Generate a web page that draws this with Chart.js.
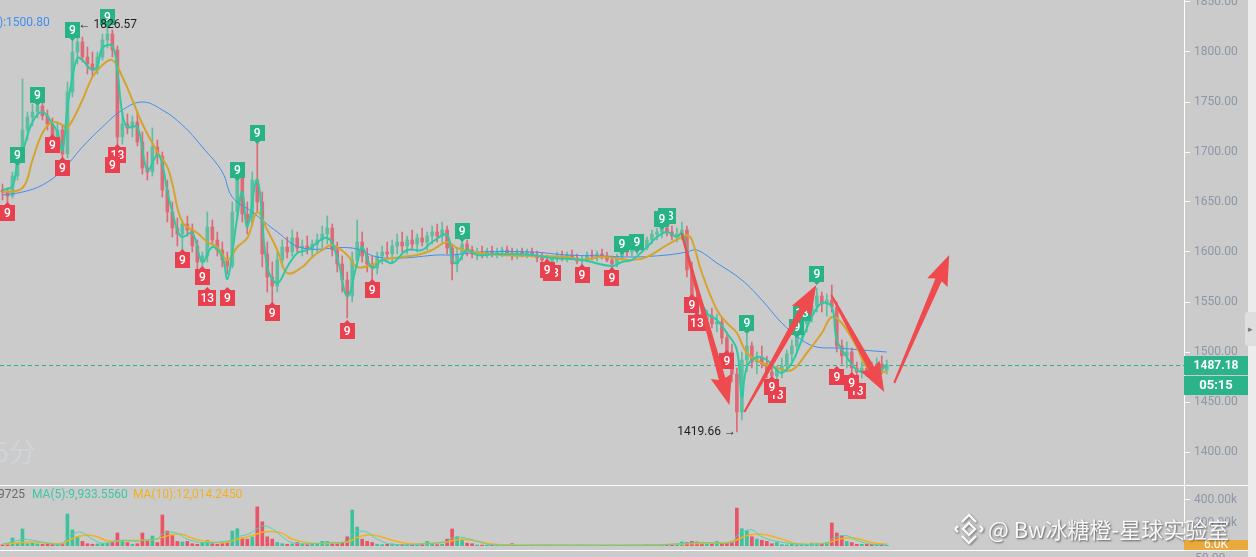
<!DOCTYPE html>
<html>
<head>
<meta charset="utf-8">
<script src="https://cdn.jsdelivr.net/npm/chart.js"></script>
<style>
  html, body { margin: 0; padding: 0; background: #cbcbcb; overflow: hidden; }
  #wrap { position: relative; width: 1256px; height: 557px; background: #cbcbcb; overflow: hidden;
          font-family: Roboto, "Noto Sans", sans-serif; }
  canvas { position: absolute; left: 0; }
  #main { top: 0; }
  #vol { top: 486px; }
  .hline { position: absolute; left: 0; width: 1248px; height: 1px; background: #fff; }
  .txt { position: absolute; white-space: nowrap; font-size: 12px; line-height: 14px; }
  #strip { position: absolute; left: 1248px; top: 0; width: 8px; height: 557px; background: #ececec; }
  #tab { position: absolute; left: 1245px; top: 312px; width: 11px; height: 34px; background: #dedede;
         border-radius: 3px 0 0 3px; color: #777; font-size: 9px; line-height: 34px; text-align: center; }
  #mark { position: absolute; left: 952px; top: 512px; }
  #wm { position: absolute; left: 988px; top: 513px; font-size: 22px; line-height: 30px; color: rgba(255,255,255,0.92);
        font-family: "Noto Sans CJK SC", "Noto Sans", sans-serif; text-shadow: 1px 1px 2px rgba(0,0,0,0.55);
        white-space: nowrap; }
</style>
</head>
<body>
<div id="wrap">
  <canvas id="main" width="1256" height="485"></canvas>
  <canvas id="vol" width="1256" height="64"></canvas>
  <div class="hline" style="top:485px"></div>
  <div class="hline" style="top:550px"></div>
  <div id="strip"></div>
  <div id="tab">&#9656;</div>
  <div class="txt" style="left:-1px;top:15px;color:#3d8ff0">):1500.80</div>
  <div class="txt" style="left:-6px;top:436px;font-size:27px;line-height:30px;color:rgba(222,228,236,0.35);font-family:'Noto Sans CJK SC',sans-serif">5分</div>
  <div class="txt" style="left:-2px;top:487px;color:#6b6b6b">9725</div>
  <div class="txt" style="left:32px;top:487px;color:#38c9a6">MA(5):9,933.5560</div>
  <div class="txt" style="left:133px;top:487px;color:#f2b01e">MA(10):12,014.2450</div>
  <div class="txt" style="left:1195px;top:551px;color:#8d97a6">50.00</div>
  <svg id="mark" width="34" height="34" viewBox="0 0 34 34">
    <g fill="none" stroke="rgba(255,255,255,0.92)" stroke-width="2.4" style="filter:drop-shadow(1px 1px 1px rgba(0,0,0,0.5))">
      <path d="M17 11 L23 17 L17 23 L11 17 Z"/>
      <path d="M10 10 L17 3 L24 10"/>
      <path d="M10 24 L17 31 L24 24"/>
      <path d="M3 17 L6 14 M3 17 L6 20"/>
      <path d="M31 17 L28 14 M31 17 L28 20"/>
    </g>
  </svg>
  <div id="wm">@ Bw冰糖橙-星球实验室</div>
</div>
<script>
// ---- candle data ----
const opens = [1662,1660,1656,1676,1695,1722,1735,1740,1746,1736,
  1728,1712,1722,1698,1760,1800,1810,1795,1788,1782,
  1795,1812,1818,1802,1715,1728,1724,1730,1710,1684,
  1680,1705,1696,1662,1640,1624,1618,1628,1622,1606,
  1590,1596,1625,1612,1602,1592,1586,1640,1675,1638,
  1630,1672,1650,1598,1575,1566,1592,1605,1600,1614,
  1604,1606,1602,1608,1612,1618,1624,1602,1588,1572,
  1556,1592,1610,1596,1588,1584,1596,1600,1598,1606,
  1610,1606,1612,1608,1614,1610,1616,1620,1616,1622,
  1604,1588,1598,1608,1602,1598,1600,1598,1601,1599,
  1600,1602,1599,1597,1600,1598,1600,1597,1594,1592,
  1590,1594,1596,1595,1597,1594,1591,1593,1597,1596,
  1598,1596,1592,1588,1595,1602,1600,1603,1605,1604,
  1612,1618,1620,1624,1620,1616,1618,1622,1582,1552,
  1538,1532,1536,1528,1530,1514,1500,1478,1440,1492,
  1506,1490,1494,1488,1480,1476,1482,1486,1498,1506,
  1518,1528,1540,1546,1556,1548,1552,1545,1506,1496,
  1500,1484,1480,1484,1482,1478,1488,1482];
const highs = [1668,1664,1680,1700,1773,1740,1748,1755,1750,1742,
  1734,1730,1726,1770,1820,1827,1815,1805,1800,1800,
  1818,1826,1822,1806,1740,1738,1736,1740,1720,1700,
  1724,1712,1700,1672,1650,1634,1632,1636,1628,1612,
  1600,1640,1632,1620,1610,1600,1650,1688,1680,1650,
  1680,1712,1660,1610,1590,1600,1612,1615,1622,1620,
  1612,1616,1612,1618,1626,1636,1628,1610,1596,1580,
  1600,1632,1620,1604,1596,1600,1606,1610,1612,1618,
  1620,1616,1622,1618,1624,1620,1626,1628,1630,1626,
  1608,1604,1614,1612,1606,1604,1606,1604,1606,1604,
  1605,1606,1604,1603,1604,1603,1604,1601,1599,1597,
  1596,1600,1601,1600,1602,1598,1596,1600,1602,1601,
  1603,1600,1596,1598,1606,1606,1606,1608,1610,1615,
  1622,1624,1628,1630,1626,1624,1630,1626,1590,1560,
  1546,1542,1544,1538,1534,1520,1508,1484,1500,1518,
  1510,1500,1506,1496,1488,1486,1494,1502,1512,1524,
  1534,1546,1552,1564,1560,1558,1567,1550,1512,1510,
  1504,1490,1490,1492,1490,1494,1496,1492];
const lows = [1652,1648,1654,1672,1690,1712,1726,1734,1732,1722,
  1707,1700,1690,1694,1755,1788,1790,1778,1776,1778,
  1792,1804,1795,1690,1708,1718,1715,1706,1678,1672,
  1676,1688,1655,1630,1615,1606,1600,1616,1600,1582,
  1578,1590,1608,1596,1585,1578,1584,1634,1630,1618,
  1626,1640,1585,1560,1545,1560,1585,1594,1596,1600,
  1596,1598,1594,1600,1604,1608,1596,1580,1560,1534,
  1550,1586,1590,1580,1572,1578,1588,1592,1590,1598,
  1600,1598,1602,1600,1606,1602,1608,1610,1610,1598,
  1572,1580,1592,1596,1594,1592,1594,1594,1595,1594,
  1595,1596,1592,1593,1595,1594,1595,1590,1588,1586,
  1584,1590,1591,1590,1592,1588,1586,1590,1592,1591,
  1593,1590,1580,1585,1592,1596,1596,1598,1600,1602,
  1608,1612,1614,1616,1612,1610,1612,1575,1545,1530,
  1524,1522,1524,1520,1508,1492,1470,1420,1432,1480,
  1484,1478,1484,1474,1468,1466,1474,1480,1490,1500,
  1510,1520,1530,1540,1540,1536,1540,1500,1488,1484,
  1478,1472,1474,1476,1474,1470,1478,1478];
const closes = [1660,1656,1676,1695,1722,1735,1740,1746,1736,1728,
  1712,1722,1698,1760,1800,1810,1795,1788,1782,1795,
  1812,1818,1802,1715,1728,1724,1730,1710,1684,1680,
  1705,1696,1662,1640,1624,1618,1628,1622,1606,1590,
  1596,1625,1612,1602,1592,1586,1640,1675,1638,1630,
  1672,1650,1598,1575,1566,1592,1605,1600,1614,1604,
  1606,1602,1608,1612,1618,1624,1602,1588,1572,1556,
  1592,1610,1596,1588,1584,1596,1600,1598,1606,1610,
  1606,1612,1608,1614,1610,1616,1620,1616,1622,1604,
  1588,1598,1608,1602,1598,1600,1598,1601,1599,1600,
  1602,1599,1597,1600,1598,1600,1597,1594,1592,1590,
  1594,1596,1595,1597,1594,1591,1593,1597,1596,1598,
  1596,1592,1588,1595,1602,1600,1603,1605,1604,1612,
  1618,1620,1624,1620,1616,1618,1622,1582,1552,1538,
  1532,1536,1528,1530,1514,1500,1478,1440,1492,1506,
  1490,1494,1488,1480,1476,1482,1486,1498,1506,1518,
  1528,1540,1546,1556,1548,1552,1545,1506,1496,1500,
  1484,1480,1484,1482,1478,1488,1482,1487.18];
// volume in thousands
const volumes = [10,12,70,25,148,20,25,18,15,18,
  15,12,25,278,140,80,40,20,15,18,
  20,25,30,113,50,30,15,20,113,45,
  87,30,270,130,90,40,35,40,20,15,
  30,50,20,15,20,30,130,150,70,60,
  80,340,210,80,60,30,20,15,18,30,
  15,12,15,20,40,40,25,20,30,80,
  313,165,60,40,30,15,12,15,18,14,
  12,16,14,12,15,40,15,12,15,60,
  148,80,60,25,20,9,8,9,10,8,
  9,10,20,7,6,7,8,6,7,8,
  7,6,8,7,6,7,8,6,7,8,
  6,7,8,7,6,7,8,7,6,15,
  8,7,8,7,8,9,35,30,40,35,
  20,20,25,40,20,30,40,330,150,130,
  80,60,50,40,20,30,12,10,15,12,
  15,12,25,25,20,30,200,113,90,40,
  30,15,15,15,15,12,15,6];

// ---- moving average lines at sample candles ----
const maFastIdx = [0,2,3,4,6,8,10,11,12,13,14,15,16,17,18,19,20,22,23,24,25,27,29,31,32,33,34,35,36,38,40,42,44,45,46,47,48,49,51,53,55,57,59,61,65,67,69,71,72,74,76,78,81,84,86,89,90,91,93,95,99,106,110,116,122,124,126,129,131,133,135,136,137,139,141,143,145,147,148,149,151,153,155,156,158,160,162,164,166,167,169,171,173,175,177];
const maFastVal = [1662,1666,1690,1700,1730,1740,1728,1720,1702,1745,1775,1794,1792,1786,1782,1786,1804,1806,1780,1738,1725,1725,1682,1697,1688,1660,1640,1622,1615,1619,1590,1605,1595,1573,1600,1635,1660,1625,1672,1585,1569,1585,1599,1602,1614,1594,1556,1589,1605,1584,1592,1589,1602,1602,1610,1617,1592,1589,1602,1597,1598,1597,1594,1592,1586,1590,1592,1605,1615,1620,1615,1619,1602,1562,1539,1532,1519,1502,1455,1485,1495,1492,1482,1479,1489,1512,1535,1549,1545,1512,1495,1482,1479,1479,1487];
const maMidIdx = [0,4,6,8,10,12,13,16,18,20,22,24,26,28,31,33,34,36,39,41,43,45,47,49,51,53,55,57,60,62,64,66,69,71,74,76,80,83,86,89,91,94,100,106,113,116,120,126,129,133,136,137,138,140,143,145,147,149,152,155,158,161,164,166,168,171,173,176,177];
const maMidVal = [1660,1664,1692,1719,1730,1727,1724,1752,1775,1787,1792,1775,1752,1728,1700,1685,1668,1630,1619,1610,1605,1592,1605,1614,1640,1622,1602,1579,1585,1595,1602,1607,1597,1585,1587,1592,1595,1597,1602,1610,1604,1600,1597,1596,1595,1592,1595,1592,1595,1607,1615,1617,1612,1579,1542,1529,1519,1499,1489,1484,1482,1499,1519,1535,1529,1505,1485,1480,1481];
const maSlowIdx = [0,4,8,12,16,20,24,28,32,36,40,44,46,50,55,60,70,75,80,87,90,96,106,113,120,126,133,137,139,143,148,152,156,160,163,167,172,177];
const maSlowVal = [1657,1660,1667,1682,1705,1725,1742,1750,1742,1727,1705,1680,1655,1640,1620,1604,1604,1595,1594,1597,1597,1600,1600,1597,1596,1595,1597,1600,1602,1589,1572,1552,1529,1512,1505,1504,1502,1500];

// volume MA(5) / MA(10), thousands
const vmaFastIdx = [0,4,6,10,12,13,14,15,16,18,20,23,25,27,29,31,32,33,35,37,40,46,47,49,51,52,54,56,58,62,66,69,70,71,73,75,78,85,89,90,92,95,98,110,130,136,140,146,147,148,150,152,155,160,165,166,167,169,171,174,177];
const vmaFastVal = [15,55,50,18,20,75,100,120,115,60,25,45,50,40,55,60,105,120,110,60,30,50,80,100,150,175,150,80,30,20,30,40,100,125,120,60,15,20,40,70,75,40,10,8,8,20,30,30,90,120,140,80,40,15,25,60,80,90,50,15,12];
const vmaSlowIdx = [0,6,12,13,15,17,19,21,24,28,30,32,34,36,39,44,47,50,52,54,56,58,62,69,71,73,75,78,82,89,91,94,97,100,130,137,145,147,149,151,153,156,159,165,167,169,171,174,177];
const vmaSlowVal = [15,35,20,45,80,95,80,45,45,50,55,75,100,100,55,30,60,90,120,125,110,60,25,35,75,95,90,50,18,35,55,50,25,10,8,20,30,55,90,105,95,60,20,25,55,70,65,30,15];

// ---- TD sequential labels and hand-drawn arrows ----
const tdIdx   = [3,7,14,21,47,51,92,124,127,133,132,149,160,159,163, 1,10,12,23,22,36,41,40,45,54,69,74,110,109,116,122,139,138,145,155,154,171,167,170];
const tdPrice = [1697,1757,1822,1835,1682,1719,1621,1608,1610,1636,1633,1529,1539,1525,1578, 1639,1707,1684,1697,1687,1592,1554,1575,1554,1539,1521,1562,1579,1582,1577,1574,1529,1547,1491,1457,1465,1461,1475,1469];
const tdText  = ['9','9','9','9','9','9','9','9','9','13','9','9','13','9','9', '9','9','9','13','9','9','13','9','9','9','9','9','13','9','9','9','13','9','9','13','9','13','9','9'];
const tdUp    = [1,1,1,1,1,1,1,1,1,1,1,1,1,1,1, 0,0,0,0,0,0,0,0,0,0,0,0,0,0,0,0,0,0,0,0,0,0,0,0];

const arrowFromIdx = [135.9, 148.5, 165.9, 178.5];
const arrowFromPrice = [1619, 1440, 1557, 1469];
const arrowToIdx = [145.5, 162.9, 176.5, 189.5];
const arrowToPrice = [1447, 1567, 1460, 1597];

const highMark = {idx: 15, price: 1827, text: '\u2190 1826.57'};
const lowMark = {idx: 147, price: 1420, text: '1419.66 \u2192'};
const lastPrice = 1487.18;

const slots = 237;
const labels = [];
for (let i = 0; i < slots; i++) labels.push(i);

const UP = '#5fbea0', DOWN = '#de6a75';
const candleColors = closes.map((c, i) => c >= opens[i] ? UP : DOWN);
const volColors = closes.map((c, i) => c >= opens[i] ? '#3dc29b' : '#ea5464');
const FONT = 'Roboto, "Noto Sans", sans-serif';

function pts(idx, val) { return idx.map((x, k) => ({x: x, y: val[k]})); }

function drawArrow(ctx, x1, y1, x2, y2) {
  const ang = Math.atan2(y2 - y1, x2 - x1);
  const len = Math.hypot(x2 - x1, y2 - y1);
  const hl = 30, hw = 11;
  ctx.save();
  ctx.translate(x1, y1);
  ctx.rotate(ang);
  ctx.beginPath();
  ctx.moveTo(0, -1);
  ctx.lineTo(len - hl + 3, -3.4);
  ctx.lineTo(len - hl, -hw);
  ctx.lineTo(len, 0);
  ctx.lineTo(len - hl, hw);
  ctx.lineTo(len - hl + 3, 3.4);
  ctx.lineTo(0, 1);
  ctx.closePath();
  ctx.fillStyle = '#ef4b4e';
  ctx.fill();
  ctx.restore();
}

const overlay = {
  id: 'overlay',
  beforeDatasetsDraw(chart) {
    const ctx = chart.ctx, y = chart.scales.y, a = chart.chartArea;
    const py = Math.round(y.getPixelForValue(lastPrice)) + 0.5;
    ctx.save();
    ctx.strokeStyle = '#2bb38a';
    ctx.setLineDash([4, 3]);
    ctx.lineWidth = 1;
    ctx.beginPath();
    ctx.moveTo(a.left, py);
    ctx.lineTo(a.right, py);
    ctx.stroke();
    ctx.restore();
  },
  afterDatasetsDraw(chart) {
    const ctx = chart.ctx, x = chart.scales.x, y = chart.scales.y;
    ctx.save();
    // 13 labels first, 9 on top
    const order = tdIdx.map((v, k) => k).sort((p, q) => (tdText[q] === '13') - (tdText[p] === '13'));
    ctx.font = '500 12px ' + FONT;
    ctx.textAlign = 'center';
    ctx.textBaseline = 'middle';
    order.forEach(k => {
      const cx = x.getPixelForValue(tdIdx[k]);
      const cy = y.getPixelForValue(tdPrice[k]);
      const w = tdText[k] === '13' ? 18 : 15, h = 16;
      ctx.fillStyle = tdUp[k] ? '#27b386' : '#e8404f';
      ctx.fillRect(Math.round(cx - w / 2), Math.round(cy - h / 2), w, h);
      ctx.beginPath();
      if (tdUp[k]) {
        ctx.moveTo(cx - 3, cy + h / 2); ctx.lineTo(cx + 3, cy + h / 2); ctx.lineTo(cx, cy + h / 2 + 3);
      } else {
        ctx.moveTo(cx - 3, cy - h / 2); ctx.lineTo(cx + 3, cy - h / 2); ctx.lineTo(cx, cy - h / 2 - 3);
      }
      ctx.fill();
      ctx.fillStyle = '#ffffff';
      ctx.fillText(tdText[k], cx, cy + 1);
    });
    // extreme price notes
    ctx.font = '12px ' + FONT;
    ctx.fillStyle = '#1e1e1e';
    ctx.textAlign = 'left';
    ctx.fillText(highMark.text, x.getPixelForValue(highMark.idx) + 1, y.getPixelForValue(highMark.price));
    ctx.textAlign = 'right';
    ctx.fillText(lowMark.text, x.getPixelForValue(lowMark.idx) - 1, y.getPixelForValue(lowMark.price));
    // arrows
    arrowFromIdx.forEach((v, k) => {
      drawArrow(ctx, x.getPixelForValue(v), y.getPixelForValue(arrowFromPrice[k]),
                x.getPixelForValue(arrowToIdx[k]), y.getPixelForValue(arrowToPrice[k]));
    });
    ctx.restore();
  },
  afterDraw(chart) {
    const ctx = chart.ctx, y = chart.scales.y, a = chart.chartArea;
    const py = Math.round(y.getPixelForValue(lastPrice));
    ctx.save();
    ctx.fillStyle = '#2bb38a';
    ctx.fillRect(a.right, py - 9, 64, 19);
    ctx.fillRect(a.right, py + 11, 64, 19);
    ctx.fillStyle = '#ffffff';
    ctx.font = 'bold 12px ' + FONT;
    ctx.textAlign = 'center';
    ctx.textBaseline = 'middle';
    ctx.fillText(lastPrice.toFixed(2), a.right + 32, py + 1);
    ctx.font = 'bold 13px ' + FONT;
    ctx.fillText('05:15', a.right + 32, py + 21);
    ctx.restore();
  }
};

function axisFit(s) { s.width = 72; s.paddingTop = 0; s.paddingBottom = 0; }

new Chart(document.getElementById('main'), {
  type: 'bar',
  data: {
    labels: labels,
    datasets: [
      {type: 'line', data: pts(maFastIdx, maFastVal), borderColor: '#2dc9a3', borderWidth: 2, pointRadius: 0, tension: 0.4, order: 0},
      {type: 'line', data: pts(maMidIdx, maMidVal), borderColor: '#d6a42c', borderWidth: 2, pointRadius: 0, tension: 0.4, order: 0},
      {type: 'line', data: pts(maSlowIdx, maSlowVal), borderColor: '#3e8fee', borderWidth: 1, pointRadius: 0, tension: 0.4, order: 0},
      {data: opens.map((o, i) => [o, closes[i]]), backgroundColor: candleColors, barThickness: 3, minBarLength: 1, grouped: false, order: 1},
      {data: lows.map((l, i) => [l, highs[i]]), backgroundColor: candleColors, barThickness: 1, grouped: false, order: 2}
    ]
  },
  options: {
    responsive: false,
    animation: false,
    devicePixelRatio: 1,
    layout: {padding: 0},
    plugins: {legend: {display: false}, tooltip: {enabled: false}},
    scales: {
      x: {type: 'category', offset: true, display: false},
      y: {
        position: 'right', min: 1367, max: 1852,
        afterFit: axisFit,
        ticks: {stepSize: 50, includeBounds: false, padding: 4, color: '#8d97a6',
                font: {size: 12, family: FONT}, callback: v => v.toFixed(2)},
        grid: {drawOnChartArea: false, color: '#ffffff', tickLength: 6},
        border: {color: '#ffffff'}
      }
    }
  },
  plugins: [overlay]
});

const volTag = {
  id: 'volTag',
  afterDraw(chart) {
    const ctx = chart.ctx, a = chart.chartArea;
    ctx.save();
    ctx.fillStyle = '#e9a93c';
    ctx.fillRect(a.right, 54, 64, 10);
    ctx.fillStyle = '#ffffff';
    ctx.font = '12px ' + FONT;
    ctx.textAlign = 'center';
    ctx.textBaseline = 'middle';
    ctx.fillText('6.0K', a.right + 32, 59);
    ctx.restore();
  }
};

new Chart(document.getElementById('vol'), {
  type: 'bar',
  data: {
    labels: labels,
    datasets: [
      {type: 'line', data: pts(vmaFastIdx, vmaFastVal), borderColor: '#4fd2b3', borderWidth: 1, pointRadius: 0, tension: 0.4, order: 0},
      {type: 'line', data: pts(vmaSlowIdx, vmaSlowVal), borderColor: '#f4b21c', borderWidth: 1.5, pointRadius: 0, tension: 0.4, order: 0},
      {data: volumes, backgroundColor: volColors, barThickness: 3, order: 1}
    ]
  },
  options: {
    responsive: false,
    animation: false,
    devicePixelRatio: 1,
    layout: {padding: {bottom: 4}},
    plugins: {legend: {display: false}, tooltip: {enabled: false}},
    scales: {
      x: {type: 'category', offset: true, display: false},
      y: {
        position: 'right', min: 0, max: 521.7,
        afterFit: axisFit,
        ticks: {stepSize: 200, includeBounds: false, padding: 4, color: '#8d97a6',
                font: {size: 12, family: FONT}, callback: v => v === 0 ? null : v.toFixed(2) + 'k'},
        grid: {drawOnChartArea: false, color: '#ffffff', tickLength: 6},
        border: {color: '#ffffff'}
      }
    }
  },
  plugins: [volTag]
});
</script>
</body>
</html>
